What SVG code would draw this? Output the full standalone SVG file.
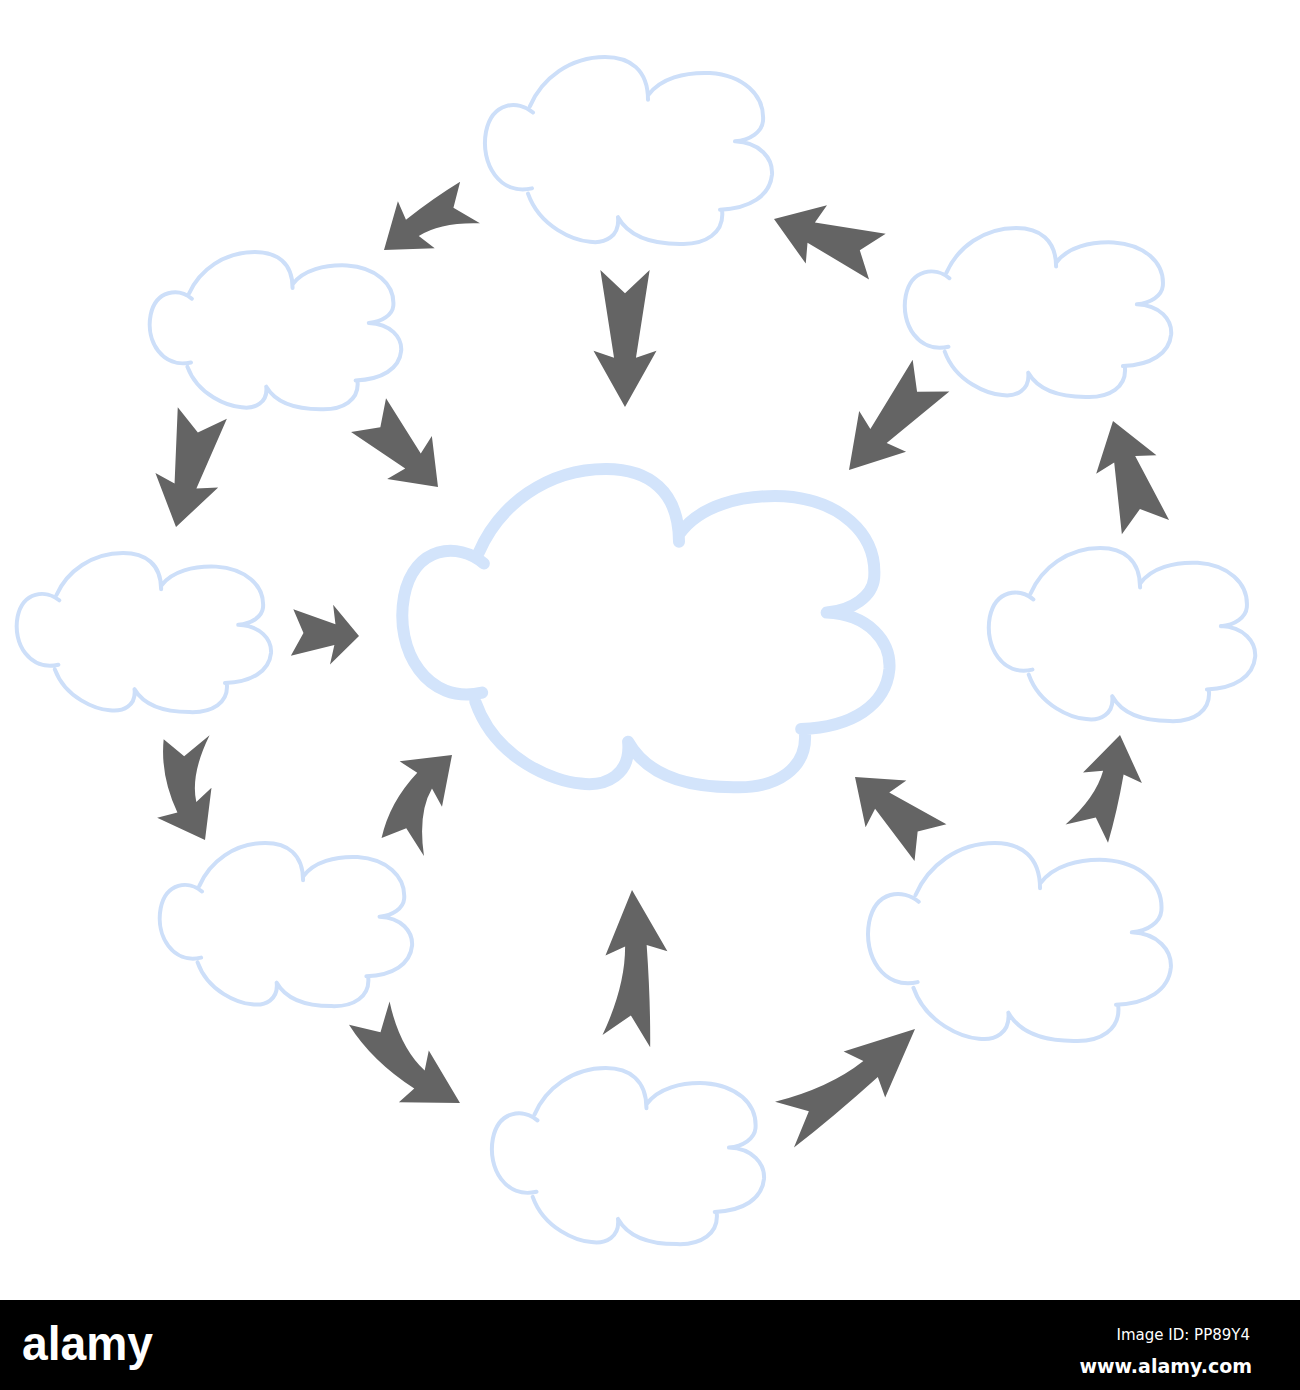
<svg xmlns="http://www.w3.org/2000/svg" xmlns:xlink="http://www.w3.org/1999/xlink" width="1300" height="1390" viewBox="0 0 1300 1390">
<style>
.cl{fill:none;stroke:#cddff9;stroke-width:4;stroke-linecap:round;stroke-linejoin:round}
.big{stroke:#d3e4fb;stroke-width:12}
.ar{fill:#646464}
.logo{font-family:"Liberation Sans",Arial,sans-serif;font-weight:bold;fill:#fff}
.info{font-family:"DejaVu Sans","Liberation Sans",sans-serif;fill:#fff}
</style>
<defs>
<path id="cloud" vector-effect="non-scaling-stroke" d="M53,62 C38,50 12,52 6,80 C0,110 20,140 52,133 M50,56 C62,30 90,10 125,10 C150,10 168,22 168,50 M168,46 C180,30 205,24 230,25 C262,27 285,45 283,70 C282,80 270,88 255,89 M255,89 C280,90 293,105 292,120 C290,140 270,152 240,153 M242,153 C245,175 225,186 200,185 C175,185 150,180 138,160 M138,160 C140,178 125,185 110,183 C95,182 60,170 48,138"/>
<path id="as" d="M0 0 L-41 -23 L-36 -8 L-100 -18 L-83 0 L-100 18 L-36 8 L-41 23 Z"/>
<path id="ac" d="M0 0 L-41 -23 L-36 -8 Q-75 -6 -104 9.4 L-80.2 16.6 L-86 40.6 Q-62 14 -36 8 L-41 23 Z"/>
<path id="am" d="M0 0 L-41 -23 L-36 -8 Q-72 -8 -102 -5.3 L-80.7 7.3 L-92 29.3 Q-62 10 -36 8 L-41 23 Z"/>
</defs>
<rect width="1300" height="1390" fill="#fff"/>
<g id="cloud-center"><use xlink:href="#cloud" class="cl big" transform="translate(393.9,450.8) scale(1.697,1.818)"/></g>
<g id="cloud-top"><use xlink:href="#cloud" class="cl" transform="translate(480,46.3) scale(1,1.068)"/></g>
<g id="cloud-upper-left"><use xlink:href="#cloud" class="cl" transform="translate(145.4,243) scale(0.876,0.898)"/></g>
<g id="cloud-upper-right"><use xlink:href="#cloud" class="cl" transform="translate(900.2,218.3) scale(0.928,0.966)"/></g>
<g id="cloud-left"><use xlink:href="#cloud" class="cl" transform="translate(12.3,543.9) scale(0.886,0.909)"/></g>
<g id="cloud-right"><use xlink:href="#cloud" class="cl" transform="translate(984.2,538.1) scale(0.928,0.989)"/></g>
<g id="cloud-lower-left"><use xlink:href="#cloud" class="cl" transform="translate(155.4,833.7) scale(0.879,0.932)"/></g>
<g id="cloud-lower-right"><use xlink:href="#cloud" class="cl" transform="translate(862.8,831.7) scale(1.055,1.131)"/></g>
<g id="cloud-bottom"><use xlink:href="#cloud" class="cl" transform="translate(487.2,1058) scale(0.948,1.006)"/></g>
<g id="connectors" class="ar">
<use xlink:href="#am" transform="translate(384,250) rotate(142) scale(1,-1.3)"/>
<use xlink:href="#as" transform="translate(625,407) rotate(90) scale(1.37,1.37)"/>
<use xlink:href="#as" transform="translate(774,219) rotate(200) scale(1.1,1.35)"/>
<use xlink:href="#as" transform="translate(176,527) rotate(103) scale(1.17,1.4)"/>
<use xlink:href="#as" transform="translate(438,487) rotate(46) scale(1,1.35)"/>
<use xlink:href="#as" transform="translate(849,470) rotate(131) scale(1.25,1.35)"/>
<use xlink:href="#as" transform="translate(1113,421) rotate(-107) scale(1.11,1.37)"/>
<use xlink:href="#as" transform="translate(359,636) rotate(3) scale(0.67,1.3)"/>
<use xlink:href="#ac" transform="translate(205,840) rotate(61) scale(1.04,-1.35)"/>
<use xlink:href="#ac" transform="translate(452,755) rotate(-43) scale(1.04,1.35)"/>
<use xlink:href="#ac" transform="translate(460,1103) rotate(30) scale(1.3,-1.3)"/>
<use xlink:href="#am" transform="translate(915,1029) rotate(-42) scale(1.66,-1.35)"/>
<use xlink:href="#am" transform="translate(632,890) rotate(-94) scale(1.55,-1.35)"/>
<use xlink:href="#as" transform="translate(855,777) rotate(-139) scale(1,1.35)"/>
<use xlink:href="#am" transform="translate(1120,735) rotate(-80) scale(1.06,-1.3)"/>
</g>
<g id="banner">
<rect x="0" y="1300" width="1300" height="90" fill="#000"/>
<text class="logo" x="22" y="1360" font-size="48" textLength="131" lengthAdjust="spacingAndGlyphs">alamy</text>
<text class="info" x="1250" y="1340" font-size="15" text-anchor="end">Image ID: PP89Y4</text>
<text class="info" x="1252" y="1373" font-size="19" font-weight="bold" text-anchor="end">www.alamy.com</text>
</g>
</svg>
